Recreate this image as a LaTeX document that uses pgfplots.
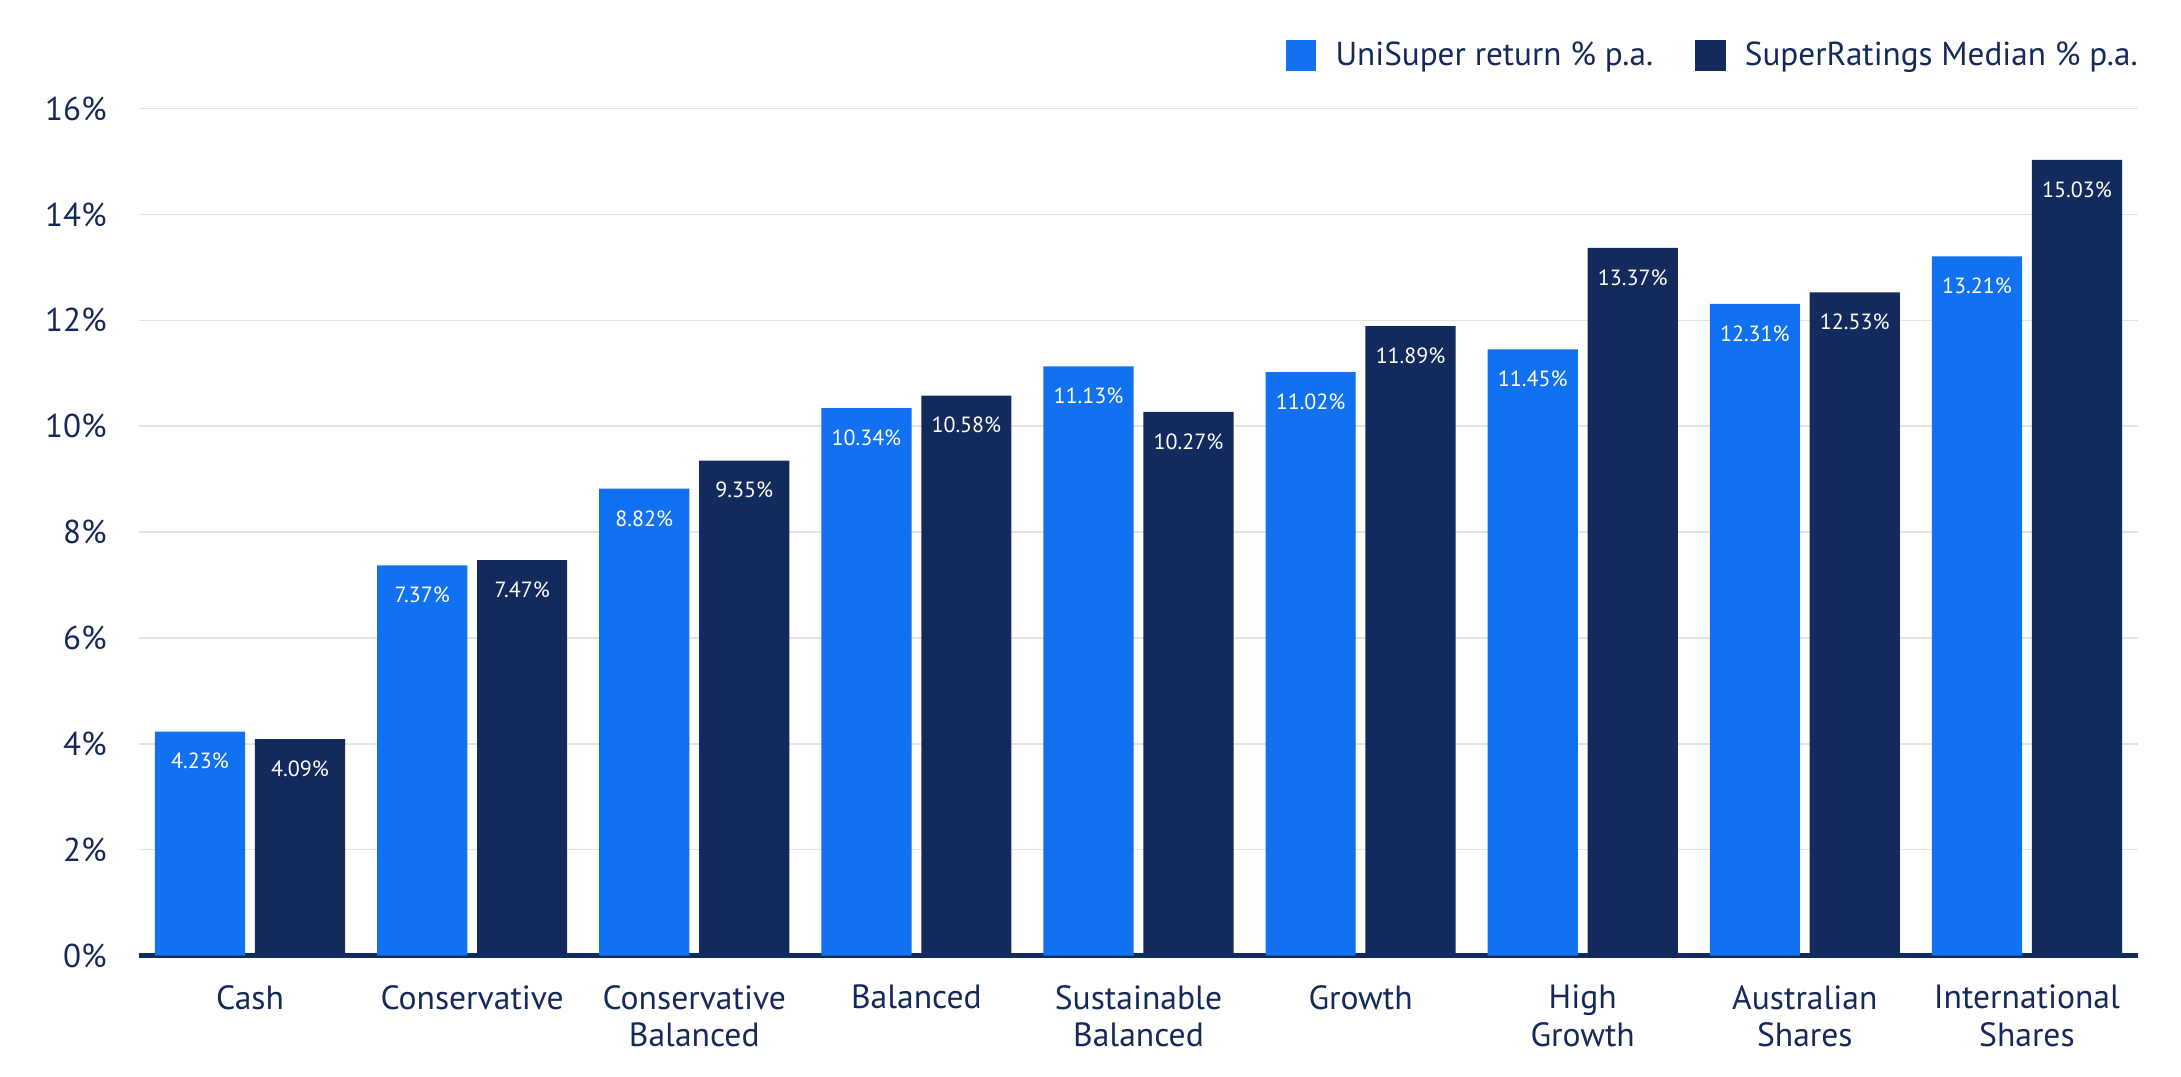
\documentclass[border=0pt]{standalone}
\usepackage{pgfplots}
\pgfplotsset{compat=1.18}
\usepackage{fontspec}
\setmainfont{PT Sans}

\definecolor{uniblue}{HTML}{1171F0}
\definecolor{uninavy}{HTML}{132B5C}
\definecolor{labnavy}{HTML}{14295A}
\definecolor{gridgray}{HTML}{E3E3E3}

\begin{document}
\begin{tikzpicture}
\begin{axis}[
  name=ax,
  scale only axis,
  width=999.5pt, height=423.5pt,
  xmin=-0.5, xmax=8.5,
  ymin=0, ymax=16,
  ytick={0,2,...,16},
  yticklabel={\pgfmathprintnumber{\tick}\%},
  /pgf/number format/assume math mode=true,
  xtick={0,...,8},
  xticklabels={Cash, Conservative, Conservative\\Balanced, Balanced,
    Sustainable\\Balanced, Growth, High\\Growth, Australian\\Shares,
    International\\Shares},
  xticklabel style={align=center, font=\fontsize{16.8}{18.8}\selectfont,
    text=labnavy, inner sep=0pt, yshift=-14.6pt},
  yticklabel style={font=\fontsize{16.5}{19}\selectfont, text=labnavy,
    inner sep=0pt, xshift=-16pt},
  major tick length=0pt,
  ymajorgrids,
  grid style={line width=0.75pt, gridgray},
  axis x line*=bottom,
  axis y line*=left,
  x axis line style={line width=2.3pt, uninavy},
  y axis line style={draw=none},
  ybar,
  bar width=0.406,
  nodes near coords={\pgfmathprintnumber[fixed,fixed zerofill,precision=2]{\pgfplotspointmeta}\%},
  nodes near coords style={anchor=center, yshift=-14.8pt, text=white,
    font=\fontsize{11}{13}\selectfont},
  legend columns=2,
  legend style={draw=none, fill=none, inner sep=0pt, at={(1,1)},
    anchor=east, yshift=26.5pt,
    font=\fontsize{16.6}{19}\selectfont, text=labnavy,
    nodes={inner sep=0pt},
    column sep=9.7pt,
    /tikz/every even column/.append style={column sep=20.9pt}},
  legend image code/.code={\fill[#1] (0pt,-7.6pt) rectangle (15.3pt,7.6pt);},
]
\addplot[fill=uniblue, draw=none, bar shift=-0.225] coordinates {
  (0,4.23) (1,7.37) (2,8.82) (3,10.34) (4,11.13)
  (5,11.02) (6,11.45) (7,12.31) (8,13.21)};
\addlegendentry{UniSuper return \% p.a.}
\addplot[fill=uninavy, draw=none, bar shift=0.225] coordinates {
  (0,4.09) (1,7.47) (2,9.35) (3,10.58) (4,10.27)
  (5,11.89) (6,13.37) (7,12.53) (8,15.03)};
\addlegendentry{SuperRatings Median \% p.a.}
\end{axis}
\path[use as bounding box] (ax.south west) ++(-69.5pt,-60.7pt) rectangle ++(1090.5pt,538.5pt);
\end{tikzpicture}
\end{document}
